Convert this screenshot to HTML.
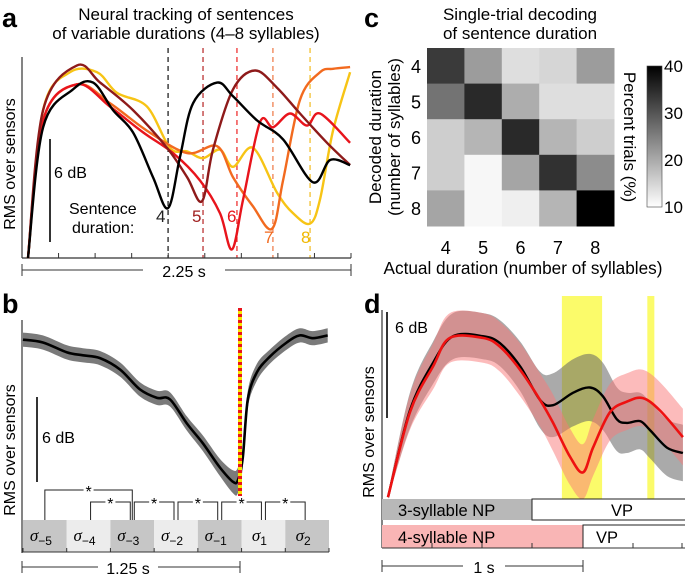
<!DOCTYPE html>
<html><head><meta charset="utf-8"><style>
html,body{margin:0;padding:0;background:#fff;}
svg{display:block;font-family:"Liberation Sans",Arial,sans-serif;}
</style></head><body>
<svg id="fig" width="685" height="577" viewBox="0 0 685 577"></svg>
<script>
// ---------- Panel a data (time ms, RMS dB) ----------
const aDurations = ["4","5","6","7","8"];
const aBlack  = [[41,0],[144,7.6],[349,9.8],[486,10.2],[622,8.6],[759,7.3],[896,4.7],[999,2.9],[1081,5.9],[1170,9.0],[1334,10.2],[1443,9.4],[1607,8.0],[1785,6.9],[1990,4.4],[2107,5.7],[2244,5.4]];
const aDarkRed= [[41,0],[144,8.6],[376,11.2],[534,10.2],[759,8.6],[992,6.4],[1129,4.7],[1231,3.3],[1306,6.3],[1443,9.8],[1594,10.9],[1744,9.9],[1901,8.4],[2086,6.7],[2244,5.4]];
const aRed    = [[41,0],[144,8.0],[376,10.1],[602,8.8],[828,7.3],[1033,6.1],[1218,4.5],[1354,2.6],[1436,0.5],[1512,3.4],[1628,7.9],[1717,7.6],[1833,8.4],[1949,7.7],[2038,8.4],[2244,6.7]];
const aOrange = [[41,0],[144,8.0],[376,10.1],[602,9.0],[855,7.4],[1129,6.1],[1334,6.5],[1443,4.7],[1580,3.0],[1710,1.7],[1785,4.5],[1901,9.2],[2038,10.8],[2127,11.0],[2244,11.1]];
const aYellow = [[41,0],[144,8.6],[328,10.8],[513,10.8],[650,9.6],[855,8.8],[1012,6.4],[1129,6.2],[1238,5.8],[1354,6.3],[1443,5.3],[1580,6.4],[1744,3.8],[1854,2.6],[1970,2.0],[2038,3.4],[2127,7.4],[2244,10.8]];
const aOffsets = [999,1238,1470,1716,1970];
// ---------- Panel b data ----------
const bTime = [6,120,258,350,447,562,676,774,848,945,1037,1135,1209,1238,1266,1295,1347,1421,1518,1593,1667,1753];
const bMean = [12.7,12.5,11.8,11.6,11.4,10.6,9.2,8.6,8.5,6.8,5.4,3.7,2.7,2.8,4.4,8.5,10.4,11.5,12.5,13.0,12.8,13.0];
const bSem  = [0.5,0.5,0.5,0.5,0.5,0.5,0.5,0.5,0.5,0.5,0.55,0.6,0.8,0.9,0.7,0.6,0.6,0.5,0.5,0.5,0.5,0.5];
const bSyll = ["-5","-4","-3","-2","-1","1","2"];
const bSig  = [[0,2],[1,2],[2,3],[3,4],[4,5],[5,6]];
// ---------- Panel c data ----------
const cLabels = ["4","5","6","7","8"];
const cMatrix = [[34,22,14,15,22],[27,36,20,14,14],[16,19,36,19,16],[16,11,21,35,24],[21,11,12,19,41]];
const cTicks = [10,20,30,40];
// ---------- Panel d data ----------
const dBlack = [[30,0.1],[139,5.0],[254,7.7],[353,9.2],[502,9.2],[587,8.8],[687,7.5],[786,5.6],[851,5.3],[950,6.0],[1035,6.3],[1099,5.8],[1169,4.5],[1219,4.3],[1284,4.4],[1333,3.9],[1418,2.9],[1497,2.6]];
const dBlackSem = [0.2,1.0,1.2,1.3,1.3,1.3,1.4,1.6,1.8,1.9,1.9,1.9,1.8,1.7,1.6,1.6,1.6,1.6];
const dRed = [[30,0.1],[139,4.9],[254,7.5],[338,9.1],[502,9.1],[587,8.6],[687,7.3],[786,5.6],[851,4.3],[935,2.4],[1000,1.5],[1050,2.9],[1134,4.9],[1219,5.5],[1298,5.7],[1383,5.0],[1497,3.5]];
const dRedSem = [0.2,1.0,1.3,1.4,1.4,1.4,1.5,1.5,1.6,1.6,1.6,1.6,1.6,1.6,1.6,1.6,1.6];
const dHighlights = [[895,1095],[1320,1355]];

const NS="http://www.w3.org/2000/svg";
const svg=document.getElementById('fig');
function el(tag,attrs,parent){const e=document.createElementNS(NS,tag);for(const k in attrs)e.setAttribute(k,attrs[k]);(parent||svg).appendChild(e);return e;}
function txt(s,attrs,parent){const e=el('text',attrs,parent);e.textContent=s;return e;}
function smooth(pts){let d='M'+pts[0][0].toFixed(1)+','+pts[0][1].toFixed(1);
 for(let i=0;i<pts.length-1;i++){const p0=pts[Math.max(0,i-1)],p1=pts[i],p2=pts[i+1],p3=pts[Math.min(pts.length-1,i+2)];
  const c1=[p1[0]+(p2[0]-p0[0])/6,p1[1]+(p2[1]-p0[1])/6],c2=[p2[0]-(p3[0]-p1[0])/6,p2[1]-(p3[1]-p1[1])/6];
  d+=' C'+c1.map(v=>v.toFixed(1))+' '+c2.map(v=>v.toFixed(1))+' '+p2[0].toFixed(1)+','+p2[1].toFixed(1);}return d;}
function bandPath(up,lo){const a=smooth(up);const b=smooth(lo.slice().reverse());return a+' L'+b.slice(1)+' Z';}

// panel letters
[["a",2,27],["b",2,313],["c",364,27],["d",364,313]].forEach(([l,x,y])=>{
 const t=txt(l,{x:x,y:y,'font-size':27,'font-weight':'bold'});
 
 });

// ================= Panel a =================
const ga=el('g',{});


const axA={x0:22,x1:351,y0:258,msMax:2250,pxPerDb:17.2};
const ax=t=>axA.x0+t/axA.msMax*(axA.x1-axA.x0);
const ay=v=>axA.y0-v*axA.pxPerDb;
txt("Neural tracking of sentences",{x:186,y:20,'font-size':17,'text-anchor':'middle'},ga);
txt("of variable durations (4–8 syllables)",{x:186,y:39,'font-size':17,'text-anchor':'middle'},ga);
const dashCols=["#222","#b33","#e33","#f08050","#f3c030"];
aOffsets.forEach((t,i)=>{const l=el('line',{x1:ax(t),x2:ax(t),y1:48,y2:258,stroke:dashCols[i],'stroke-width':1.3,'stroke-dasharray':'5,4'},ga);
 
 });
el('line',{x1:22,x2:22,y1:57,y2:258,stroke:'#333','stroke-width':1.2},ga);
el('line',{x1:22,x2:351,y1:258,y2:258,stroke:'#333','stroke-width':1.2},ga);
for(let i=1;i<=9;i++){const x=22+i*329/9;el('line',{x1:x,x2:x,y1:258,y2:253,stroke:'#333','stroke-width':1},ga);}
const aSeries=[[aYellow,"#f7c415","yellow"],[aOrange,"#f26a1f","orange"],[aRed,"#e8141c","red"],[aDarkRed,"#8e1a1a","darkred"],[aBlack,"#000","black"]];
aSeries.forEach(([s,c,n])=>{const p=el('path',{d:smooth(s.map(q=>[ax(q[0]),ay(q[1])])),fill:'none',stroke:c,'stroke-width':2.4},ga);
 
 });
el('line',{x1:50,x2:50,y1:139,y2:242,stroke:'#000','stroke-width':1.6},ga);
txt("6 dB",{x:54,y:178,'font-size':16},ga);
txt("Sentence",{x:69,y:214,'font-size':16},ga);
txt("duration:",{x:72,y:233,'font-size':16},ga);
const numCols=["#222","#a02020","#e8141c","#f26a1f","#f0b800"];
const numPos=[[156,222],[192,222],[227,222],[264,243],[301,243]];
aDurations.forEach((d,i)=>{const t=txt(d,{x:numPos[i][0],y:numPos[i][1],'font-size':17,fill:numCols[i]},ga);
 
 });
el('line',{x1:22,x2:143,y1:270,y2:270,stroke:'#333'},ga);
el('line',{x1:225,x2:351,y1:270,y2:270,stroke:'#333'},ga);
el('line',{x1:22,x2:22,y1:264,y2:276,stroke:'#333'},ga);
el('line',{x1:351,x2:351,y1:264,y2:276,stroke:'#333'},ga);
txt("2.25 s",{x:184,y:277,'font-size':16,'text-anchor':'middle'},ga);
txt("RMS over sensors",{x:0,y:0,'font-size':16,'text-anchor':'middle',transform:'translate(15,164) rotate(-90)'},ga);

// ================= Panel b =================
const gb=el('g',{});


const bx=t=>22+t/1250*218;
const by=v=>520-v*14.2;
el('line',{x1:22,x2:22,y1:320,y2:553,stroke:'#333','stroke-width':1.2},gb);
const bUp=bTime.map((t,i)=>[bx(t),by(bMean[i]+bSem[i])]);
const bLo=bTime.map((t,i)=>[bx(t),by(bMean[i]-bSem[i])]);
el('path',{d:bandPath(bUp,bLo),fill:'#7a7a7a'},gb);
el('path',{d:smooth(bTime.map((t,i)=>[bx(t),by(bMean[i])])),fill:'none',stroke:'#000','stroke-width':2.6},gb);
el('line',{x1:240,x2:240,y1:308,y2:496,stroke:'#f5e800','stroke-width':4},gb);
el('line',{x1:240,x2:240,y1:308,y2:496,stroke:'#e8141c','stroke-width':4,'stroke-dasharray':'3,3'},gb);
el('line',{x1:37,x2:37,y1:397,y2:482,stroke:'#000','stroke-width':1.6},gb);
txt("6 dB",{x:42,y:443,'font-size':16},gb);
const bw=(329-23)/7;
bSyll.forEach((s,i)=>{const x=23+i*bw;
 const r=el('rect',{x:x,y:520,width:bw,height:32,fill:(i%2==0)?'#c6c6c6':'#ececec'},gb);
 
 
 const t=el('text',{x:x+bw/2-4,y:541,'font-size':17,'text-anchor':'middle','font-family':'"Liberation Serif",serif','font-style':'italic'},gb);
 t.textContent='σ';
 const sub=el('tspan',{'font-size':12,dy:4,'font-style':'normal','font-family':'"Liberation Sans",sans-serif'},t);
 sub.textContent=s.replace('-','−');});
el('line',{x1:22,x2:329,y1:552,y2:552,stroke:'#333'},gb);
for(let i=0;i<=7;i++){const x=23+i*bw;el('line',{x1:x,x2:x,y1:552,y2:548,stroke:'#333'},gb);}
bSig.forEach(([a,b],k)=>{const xa=23+(a+0.5)*bw+(k==0?0:2),xb=23+(b+0.5)*bw-(k==0?0:2);const yy=k==0?490:502;
 const p=el('path',{d:`M${xa},520 V${yy} H${xb} V520`,fill:'none',stroke:'#222','stroke-width':1},gb);
 
 
 el('rect',{x:(xa+xb)/2-5,y:yy-2,width:10,height:4,fill:'#fff'},gb);
 txt('*',{x:(xa+xb)/2,y:yy+7,'font-size':16,'text-anchor':'middle'},gb);});
el('line',{x1:22,x2:98,y1:567,y2:567,stroke:'#333'},gb);
el('line',{x1:158,x2:240,y1:567,y2:567,stroke:'#333'},gb);
el('line',{x1:22,x2:22,y1:561,y2:573,stroke:'#333'},gb);
el('line',{x1:240,x2:240,y1:561,y2:573,stroke:'#333'},gb);
txt("1.25 s",{x:128,y:574,'font-size':16,'text-anchor':'middle'},gb);
txt("RMS over sensors",{x:0,y:0,'font-size':16,'text-anchor':'middle',transform:'translate(15,450) rotate(-90)'},gb);

// ================= Panel c =================
const gc=el('g',{});


const cx0=427,cy0=48,cw=(614-427)/5,ch=(226-48)/5;
const gray=v=>{const g=Math.round(255*(1-Math.max(0,Math.min(1,(v-10)/31))));return `rgb(${g},${g},${g})`;};
txt("Single-trial decoding",{x:520,y:20,'font-size':17,'text-anchor':'middle'},gc);
txt("of sentence duration",{x:520,y:39,'font-size':17,'text-anchor':'middle'},gc);
cMatrix.forEach((row,r)=>row.forEach((v,c)=>{const rc=el('rect',{x:cx0+c*cw,y:cy0+r*ch,width:cw+0.5,height:ch+0.5,fill:gray(v)},gc);
 
 }));
cLabels.forEach((l,i)=>{txt(l,{x:416,y:cy0+ch*(i+0.5)+7,'font-size':18,'text-anchor':'middle'},gc);
 txt(l,{x:cx0+cw*(i+0.5),y:254,'font-size':18,'text-anchor':'middle'},gc);});
txt("Actual duration (number of syllables)",{x:523,y:274,'font-size':17.2,'text-anchor':'middle'},gc);
txt("Decoded duration",{x:0,y:0,'font-size':17,'text-anchor':'middle',transform:'translate(381,137) rotate(-90)'},gc);
txt("(number of syllables)",{x:0,y:0,'font-size':17,'text-anchor':'middle',transform:'translate(400,137) rotate(-90)'},gc);
const grad=el('linearGradient',{id:'cb',x1:0,y1:1,x2:0,y2:0},el('defs',{},gc));
el('stop',{offset:0,'stop-color':'#fff'},grad);el('stop',{offset:1,'stop-color':'#000'},grad);
el('rect',{x:647,y:66,width:15,height:141,fill:'url(#cb)',stroke:'#444','stroke-width':0.6},gc);
cTicks.forEach(v=>{const y=207-(v-10)/30*141;txt(String(v),{x:664,y:y+6,'font-size':17},gc);});
txt("Percent trials (%)",{x:0,y:0,'font-size':17,'text-anchor':'middle',transform:'translate(624,137) rotate(90)'},gc);

// ================= Panel d =================
const gd=el('g',{});


const dx=t=>382+t/1000*201;
const dy=v=>499-v*17.7;
dHighlights.forEach(([a,b],i)=>{const r=el('rect',{x:dx(a),y:296,width:dx(b)-dx(a),height:203,fill:'#fbfb6a'},gd);
 
 });
el('path',{d:bandPath(dBlack.map((p,i)=>[dx(p[0]),dy(p[1]+dBlackSem[i])]),dBlack.map((p,i)=>[dx(p[0]),dy(Math.max(0,p[1]-dBlackSem[i]))])),fill:'rgba(100,100,100,0.55)'},gd);
el('path',{d:bandPath(dRed.map((p,i)=>[dx(p[0]),dy(p[1]+dRedSem[i])]),dRed.map((p,i)=>[dx(p[0]),dy(Math.max(0,p[1]-dRedSem[i]))])),fill:'rgba(250,120,120,0.5)'},gd);
el('path',{d:smooth(dBlack.map(p=>[dx(p[0]),dy(p[1])])),fill:'none',stroke:'#000','stroke-width':2.4},gd);
el('path',{d:smooth(dRed.map(p=>[dx(p[0]),dy(p[1])])),fill:'none',stroke:'#ee1111','stroke-width':2.6},gd);
el('line',{x1:382,x2:382,y1:310,y2:548,stroke:'#333','stroke-width':1.2},gd);
el('line',{x1:387,x2:387,y1:312,y2:418,stroke:'#000','stroke-width':1.6},gd);
txt("6 dB",{x:395,y:333,'font-size':16},gd);
el('rect',{x:382,y:499,width:150,height:21,fill:'#b8b8b8'},gd);
el('rect',{x:532,y:499,width:155,height:21,fill:'#fff',stroke:'#222','stroke-width':1},gd);
el('rect',{x:382,y:525,width:201,height:23,fill:'#f9b5b5'},gd);
el('rect',{x:583,y:525,width:104,height:23,fill:'#fff',stroke:'#222','stroke-width':1},gd);
txt("3-syllable NP",{x:398,y:516,'font-size':16.5},gd);
txt("VP",{x:611,y:516,'font-size':16.5},gd);
txt("4-syllable NP",{x:398,y:543,'font-size':16.5},gd);
txt("VP",{x:596,y:543,'font-size':16.5},gd);
el('line',{x1:382,x2:685,y1:548,y2:548,stroke:'#333'},gd);
[432,482,532,633,682].forEach(x=>el('line',{x1:x,x2:x,y1:548,y2:543,stroke:'#333'},gd));
el('line',{x1:382,x2:463,y1:566,y2:566,stroke:'#333'},gd);
el('line',{x1:505,x2:583,y1:566,y2:566,stroke:'#333'},gd);
el('line',{x1:382,x2:382,y1:560,y2:572,stroke:'#333'},gd);
el('line',{x1:583,x2:583,y1:560,y2:572,stroke:'#333'},gd);
txt("1 s",{x:484,y:573,'font-size':16,'text-anchor':'middle'},gd);
txt("RMS over sensors",{x:0,y:0,'font-size':16,'text-anchor':'middle',transform:'translate(374,432) rotate(-90)'},gd);
</script>
</body></html>
